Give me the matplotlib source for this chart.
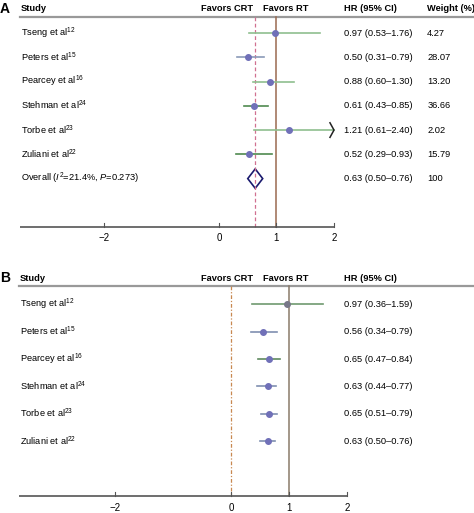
import numpy as np
import matplotlib.pyplot as plt

plt.rcParams['font.family'] = 'Liberation Sans'
plt.rcParams['mathtext.fontset'] = 'custom'
plt.rcParams['mathtext.rm'] = 'Liberation Sans'
plt.rcParams['mathtext.it'] = 'Liberation Sans:italic'

# data
studies = ['Tseng et al$^{12}$', 'Peters et al$^{15}$', 'Pearcey et al$^{16}$',
           'Stehman et al$^{24}$', 'Torbe et al$^{23}$', 'Zuliani et al$^{22}$']

hr_a = [0.97, 0.50, 0.88, 0.61, 1.21, 0.52]
lo_a = [0.53, 0.31, 0.60, 0.43, 0.61, 0.29]
hi_a = [1.76, 0.79, 1.30, 0.85, 2.40, 0.93]
weight_a = ['4.27', '28.07', '13.20', '36.66', '2.02', '15.79']
overall_hr, overall_lo, overall_hi = 0.63, 0.50, 0.76
overall_label = 'Overall ($I^2$=21.4%, $P$=0.273)'

hr_b = [0.97, 0.56, 0.65, 0.63, 0.65, 0.63]
lo_b = [0.36, 0.34, 0.47, 0.44, 0.51, 0.50]
hi_b = [1.59, 0.79, 0.84, 0.77, 0.79, 0.76]

xticks = [-2, 0, 1, 2]
fs = 6.7
ci_cols_a = ['#8fbf8f', '#8a9ab8', '#8fbf8f', '#4f8a4f', '#8fbf8f', '#4f8a4f']
ci_cols_b = ['#6f9a6f', '#7f8fb0', '#5f8a5f', '#7f8fb0', '#7f8fb0', '#7f8fb0']
pt_col = '#7070b8'

fig = plt.figure(figsize=(4.74, 5.13), dpi=100)


def fmt(h, l, u):
    return '%.2f (%.2f\u2013%.2f)' % (h, l, u)


def draw_axis(ax, y, xmin, xmax):
    ax.plot([xmin, xmax], [y, y], color='#555555', lw=1.2, solid_capstyle='butt')
    for t in xticks:
        ax.plot([t, t], [y, y - 0.15], color='#555555', lw=0.8)
        ax.text(t, y + 0.25, '\u2212%d' % -t if t < 0 else str(t), ha='center',
                va='top', fontsize=fs + 0.3)


# ---------- panel A ----------
axA = fig.add_axes([0, 0.5, 1, 0.5])
axA.set_xlim(-219 / 57.5, (474 - 219) / 57.5)
axA.set_ylim(9.21, -1.36)
axA.axis('off')

axA.plot([-3.46, 10], [-0.66, -0.66], color='#999999', lw=1.6)
axA.text(0.0, 0.965, 'A', transform=axA.transAxes, fontsize=10, fontweight='bold', va='center')
axA.text(-3.45, -1, 'Study', fontsize=fs, fontweight='bold', va='center')
axA.text(0.6, -1, 'Favors CRT', fontsize=fs, fontweight='bold', va='center', ha='right')
axA.text(0.76, -1, 'Favors RT', fontsize=fs, fontweight='bold', va='center')
axA.text(2.18, -1, 'HR (95% CI)', fontsize=fs, fontweight='bold', va='center')
axA.text(3.62, -1, 'Weight (%)', fontsize=fs, fontweight='bold', va='center')

axA.plot([overall_hr, overall_hr], [-0.66, 8], color='#d07090', lw=0.9, ls=(0, (3, 2)))
axA.plot([1, 1], [-0.66, 8], color='#9a6a50', lw=1.1)

for i in range(len(studies)):
    axA.text(-3.45, i, studies[i], fontsize=fs, va='center')
    hi_draw = min(hi_a[i], 2.0)
    axA.plot([lo_a[i], hi_draw], [i, i], color=ci_cols_a[i], lw=1.2)
    if hi_a[i] > 2.0:
        axA.plot([1.93, 2.0, 1.93], [i - 0.3, i, i + 0.3], color='#222222', lw=1.1)
    axA.plot(hr_a[i], i, 'o', color=pt_col, ms=4)
    axA.text(2.18, i, fmt(hr_a[i], lo_a[i], hi_a[i]), fontsize=fs, va='center')
    axA.text(3.62, i, weight_a[i], fontsize=fs, va='center')

n = len(studies)
axA.fill([overall_lo, overall_hr, overall_hi, overall_hr],
         [n, n - 0.4, n, n + 0.4], facecolor='white', edgecolor='#1a1a6e', lw=1.2)
axA.text(-3.45, n, overall_label, fontsize=fs, va='center')
axA.text(2.18, n, fmt(overall_hr, overall_lo, overall_hi), fontsize=fs, va='center')
axA.text(3.62, n, '100', fontsize=fs, va='center')

draw_axis(axA, 8, -3.46, 2.0)

# ---------- panel B ----------
axB = fig.add_axes([0, 0, 1, 0.5])
axB.set_xlim(-231 / 58.0, (474 - 231) / 58.0)
axB.set_ylim(7.63, -1.75)
axB.axis('off')

axB.plot([-3.65, 10], [-0.66, -0.66], color='#999999', lw=1.6)
axB.text(0.0, 0.915, 'B', transform=axB.transAxes, fontsize=10, fontweight='bold', va='center')
axB.text(-3.64, -0.95, 'Study', fontsize=fs, fontweight='bold', va='center')
axB.text(0.38, -0.95, 'Favors CRT', fontsize=fs, fontweight='bold', va='center', ha='right')
axB.text(0.55, -0.95, 'Favors RT', fontsize=fs, fontweight='bold', va='center')
axB.text(1.95, -0.95, 'HR (95% CI)', fontsize=fs, fontweight='bold', va='center')

axB.plot([0, 0], [-0.66, 7], color='#c88850', lw=0.9, ls=(0, (3, 1.5, 1, 1.5)))
axB.plot([1, 1], [-0.66, 7], color='#8a7a6a', lw=1.1)

for i in range(len(studies)):
    axB.text(-3.64, i, studies[i], fontsize=fs, va='center')
    axB.plot([lo_b[i], hi_b[i]], [i, i], color=ci_cols_b[i], lw=1.2)
    axB.plot(hr_b[i], i, 'o', color='#777788' if i == 0 else pt_col, ms=4)
    axB.text(1.95, i, fmt(hr_b[i], lo_b[i], hi_b[i]), fontsize=fs, va='center')

draw_axis(axB, 7, -3.65, 2.0)

fig.savefig('out.png', dpi=100)
